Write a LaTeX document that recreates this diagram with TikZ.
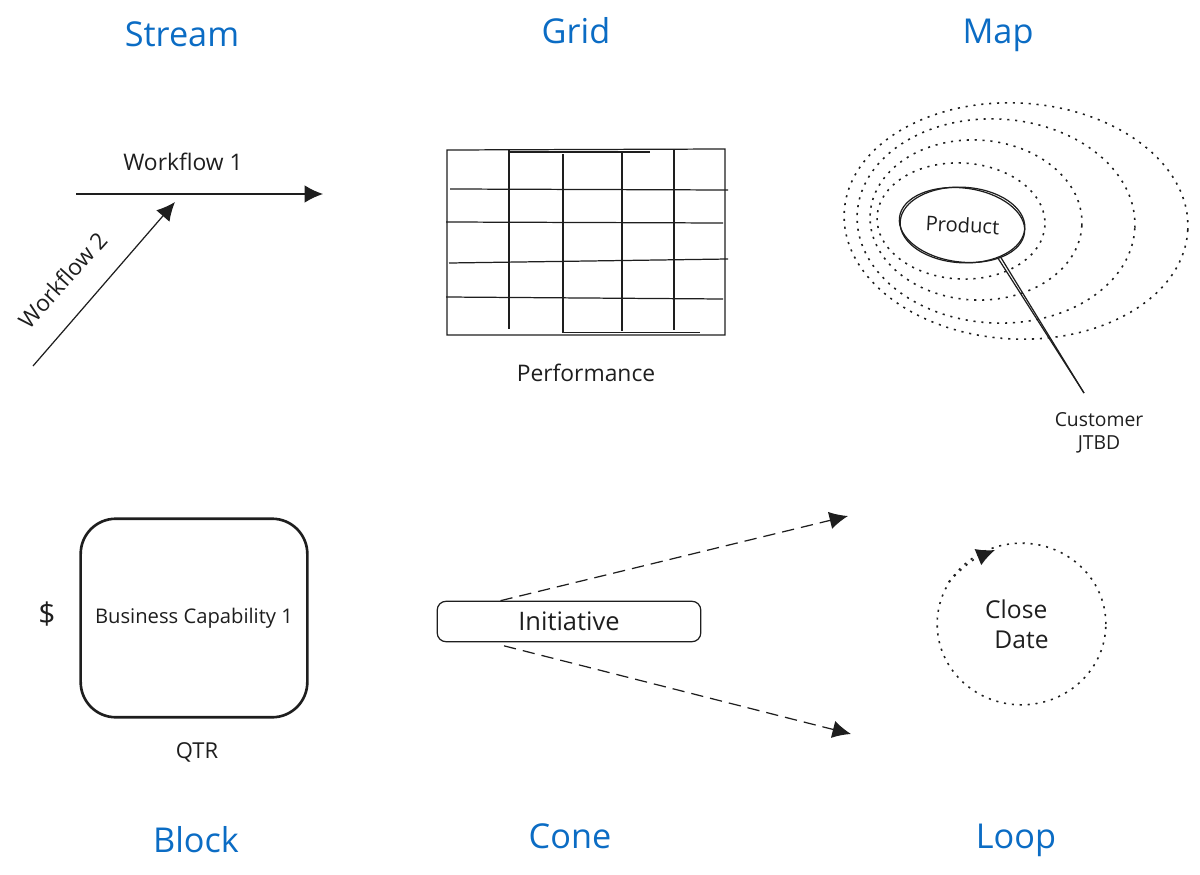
\documentclass[tikz,border=0pt]{standalone}
\usepackage{fontspec}
\setmainfont{Open Sans}
\usetikzlibrary{arrows.meta,shapes.geometric}
\definecolor{titleblue}{HTML}{0B6CC4}
\definecolor{inkblack}{HTML}{1E1E1E}
\tikzset{
	titlelabel/.style={text=titleblue,font=\fontsize{19.5}{23}\selectfont},
	handlabel/.style={text=inkblack,font=\fontsize{13}{17}\selectfont,align=center},
	smalllabel/.style={text=inkblack,font=\fontsize{11}{13}\selectfont,align=center},
	sketch/.style={draw=inkblack,line width=0.7pt},
	flowarrow/.style={sketch,-{Latex[length=10.5pt,width=10pt]}},
	conearrow/.style={flowarrow,dash pattern=on 7pt off 4pt},
	dotline/.style={draw=inkblack,line width=0.9pt,dash pattern=on 1.2pt off 3.3pt},
}
\begin{document}
\begin{tikzpicture}[x=0.02cm,y=-0.02cm]
	\useasboundingbox(0,0) rectangle (1200,875);
	% titles
	\node[titlelabel](streamtitle) at (182,34){Stream};
	\node[titlelabel](gridtitle) at (576,31){Grid};
	\node[titlelabel](maptitle) at (998,35){Map};
	\node[titlelabel](blocktitle) at (196,840){Block};
	\node[titlelabel](conetitle) at (570,836){Cone};
	\node[titlelabel](looptitle) at (1016,840){Loop};
	% stream
	\coordinate(flowonestart) at (76,194);
	\coordinate(flowoneend) at (323,194);
	\coordinate(flowtwostart) at (33,366);
	\coordinate(flowtwoend) at (175,202);
	\draw[flowarrow](flowonestart)--(flowoneend);
	\draw[flowarrow](flowtwostart)--(flowtwoend);
	\node[handlabel](flowone) at (183,162){Workflow 1};
	\node[handlabel,rotate=48](flowtwo) at (63,280){Workflow 2};
	% grid
	\draw[sketch](447,150)--(725,149)--(725,335)--(447,335)--cycle;
	\draw[sketch](510,152)--(650,152);
	\draw[sketch](563,332.5)--(700,332.5);
	\draw[sketch](509,149)--(509,329);
	\draw[sketch](563,154)--(563,333);
	\draw[sketch](622,152)--(622,331);
	\draw[sketch](674,150)--(674,330);
	\draw[sketch](450,189)--(728,190);
	\draw[sketch](446,222)--(723,223);
	\draw[sketch](449,263)--(728,259);
	\draw[sketch](446,297)--(723,299);
	\node[handlabel](performance) at (586,373){Performance};
	% map
	\draw[dotline,rotate around={-3:(1016,221)}](1016,221) ellipse [x radius=172,y radius=118];
	\draw[dotline,rotate around={-3:(996,221)}](996,221) ellipse [x radius=139,y radius=102];
	\draw[dotline,rotate around={-3:(976,220)}](976,220) ellipse [x radius=106,y radius=80];
	\draw[dotline,rotate around={-3:(961,221)}](961,221) ellipse [x radius=84,y radius=58];
	\node[ellipse,sketch,minimum width=71pt,minimum height=43pt,inner sep=0pt,rotate=-3,handlabel,font=\fontsize{11.5}{14}\selectfont](product) at (962.5,225){Product};
	\draw[sketch,rotate around={-7:(962,225)}](962,225) ellipse [x radius=63,y radius=37];
	\coordinate(jtbdtip) at (1084,393);
	\draw[sketch](product.-37)--(jtbdtip);
	\draw[sketch](product.-40)--(jtbdtip);
	\node[smalllabel](customer) at (1099,432.5){Customer\\JTBD};
	% block
	\node[draw=inkblack,line width=1.5pt,rounded corners=20pt,minimum width=129pt,minimum height=113pt,inner sep=0pt,smalllabel,font=\fontsize{11.5}{14}\selectfont](capability) at (194,618){Business Capability 1};
	\node[handlabel,font=\fontsize{17}{20}\selectfont](dollar) at (47,614){\$};
	\node[smalllabel,font=\fontsize{12.5}{14}\selectfont](qtr) at (197,752){QTR};
	% cone
	\node[sketch,rounded corners=5pt,minimum width=150pt,minimum height=23pt,inner sep=0pt,handlabel,font=\fontsize{14.5}{17}\selectfont](initiative) at (569,621.5){Initiative};
	\coordinate(conetop) at (848,516);
	\coordinate(conebottom) at (851,734);
	\draw[conearrow]([xshift=-39pt]initiative.north)--(conetop);
	\draw[conearrow]([xshift=-37pt,yshift=-2pt]initiative.south)--(conebottom);
	% loop
	\node[ellipse,dotline,minimum width=96pt,minimum height=92pt,inner sep=0pt,handlabel,font=\fontsize{14}{17}\selectfont](closedate) at (1021.5,624){Close\hspace*{6pt}\\Date};
	\coordinate(looptip) at (995,550);
	\draw[dotline,-{Latex[length=10.5pt,width=10pt]}](closedate.150) to[bend left=12] (looptip);
\end{tikzpicture}
\end{document}
